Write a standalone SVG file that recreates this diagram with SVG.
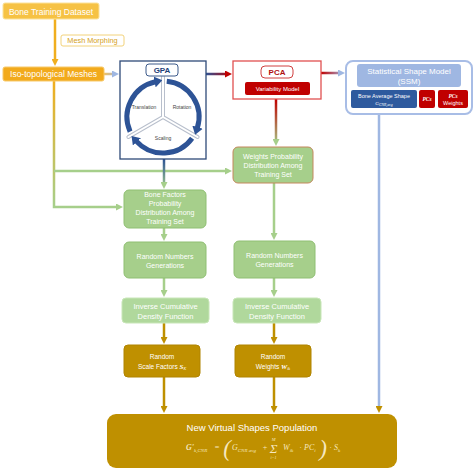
<svg xmlns="http://www.w3.org/2000/svg" width="474" height="474" viewBox="0 0 474 474">
<style>
.t{font-family:"Liberation Sans",Arial,sans-serif;fill:#fff;text-anchor:middle}
.m{font-family:"Liberation Serif","Times New Roman",serif;font-style:italic}
.gb{fill:#a6cf8b;stroke:#8fbf72;stroke-width:1}
.gl{fill:#b0d89c;stroke:#c8e6b8;stroke-width:1}
.au{fill:#bf9000;stroke:#b08400;stroke-width:1}
.c{fill:none;stroke-width:2.5}
.f{font-family:"Liberation Serif","Times New Roman",serif;font-style:italic;fill:#f6e7bf}
</style>
<defs>
<marker id="aO" viewBox="0 0 7 7" markerWidth="7" markerHeight="7" refX="3" refY="3.5" orient="auto" markerUnits="userSpaceOnUse"><path d="M0,0L7,3.5L0,7z" fill="#f0ae1e"/></marker>
<marker id="aB" viewBox="0 0 7 7" markerWidth="7" markerHeight="7" refX="3" refY="3.5" orient="auto" markerUnits="userSpaceOnUse"><path d="M0,0L7,3.5L0,7z" fill="#9fb7e2"/></marker>
<marker id="aR" viewBox="0 0 7 7" markerWidth="7" markerHeight="7" refX="3" refY="3.5" orient="auto" markerUnits="userSpaceOnUse"><path d="M0,0L7,3.5L0,7z" fill="#c00000"/></marker>
<marker id="aG" viewBox="0 0 7 7" markerWidth="7" markerHeight="7" refX="3" refY="3.5" orient="auto" markerUnits="userSpaceOnUse"><path d="M0,0L7,3.5L0,7z" fill="#a6cf8b"/></marker>
<marker id="aY" viewBox="0 0 7 7" markerWidth="7" markerHeight="7" refX="3" refY="3.5" orient="auto" markerUnits="userSpaceOnUse"><path d="M0,0L7,3.5L0,7z" fill="#bf9000"/></marker>
<marker id="aC" viewBox="0 0 8 11" markerWidth="8" markerHeight="11" refX="1" refY="5.5" orient="auto" markerUnits="userSpaceOnUse"><path d="M0,0L8,5.5L0,11z" fill="#2d5396"/></marker>
<linearGradient id="gIso" gradientUnits="userSpaceOnUse" x1="0" y1="81" x2="0" y2="207"><stop offset="0" stop-color="#f0ae1e"/><stop offset="1" stop-color="#a6cf8b"/></linearGradient>
<linearGradient id="gIG" gradientUnits="userSpaceOnUse" x1="104" y1="0" x2="119" y2="0"><stop offset="0" stop-color="#f0c060"/><stop offset="1" stop-color="#9fb7e2"/></linearGradient>
<linearGradient id="gGP" gradientUnits="userSpaceOnUse" x1="206" y1="0" x2="232" y2="0"><stop offset="0" stop-color="#2d5396"/><stop offset="1" stop-color="#c00000"/></linearGradient>
<linearGradient id="gPS" gradientUnits="userSpaceOnUse" x1="321" y1="0" x2="345" y2="0"><stop offset="0" stop-color="#c00000"/><stop offset="1" stop-color="#9fb7e2"/></linearGradient>
<linearGradient id="gPW" gradientUnits="userSpaceOnUse" x1="0" y1="99" x2="0" y2="146"><stop offset="0" stop-color="#c00000"/><stop offset="1" stop-color="#a6cf8b"/></linearGradient>
<linearGradient id="gGD" gradientUnits="userSpaceOnUse" x1="0" y1="159" x2="0" y2="189"><stop offset="0" stop-color="#2d5396"/><stop offset="1" stop-color="#a6cf8b"/></linearGradient>
</defs>
<rect width="474" height="474" fill="#fff"/>

<g id="connectors">
<line class="c" x1="55" y1="19" x2="55" y2="62" stroke="#f0ae1e" marker-end="url(#aO)"/>
<line class="c" x1="104" y1="74" x2="115" y2="74" stroke="url(#gIG)" marker-end="url(#aB)"/>
<line class="c" x1="206" y1="74" x2="228" y2="74" stroke="url(#gGP)" marker-end="url(#aR)"/>
<line class="c" x1="321" y1="73" x2="341" y2="73" stroke="url(#gPS)" marker-end="url(#aB)"/>
<line class="c" x1="276" y1="99" x2="276" y2="142" stroke="url(#gPW)" marker-end="url(#aG)"/>
<path class="c" d="M54,81V207H119" stroke="url(#gIso)" marker-end="url(#aG)"/>
<path class="c" d="M54,171H228" stroke="#a6cf8b" marker-end="url(#aG)"/>
<line class="c" x1="164" y1="159" x2="164" y2="185" stroke="url(#gGD)" marker-end="url(#aG)"/>
<line class="c" x1="379" y1="114" x2="379" y2="409" stroke="#9fb7e2" marker-end="url(#aY)"/>
<line class="c" x1="164" y1="228" x2="164" y2="237" stroke="#a6cf8b" marker-end="url(#aG)"/>
<line class="c" x1="274" y1="183" x2="274" y2="236" stroke="#a6cf8b" marker-end="url(#aG)"/>
<line class="c" x1="164" y1="278" x2="164" y2="293" stroke="#a6cf8b" marker-end="url(#aG)"/>
<line class="c" x1="274" y1="278" x2="274" y2="293" stroke="#a6cf8b" marker-end="url(#aG)"/>
<line class="c" x1="164" y1="323" x2="164" y2="340" stroke="#bf9000" marker-end="url(#aY)"/>
<line class="c" x1="274" y1="323" x2="274" y2="340" stroke="#bf9000" marker-end="url(#aY)"/>
<line class="c" x1="164" y1="377" x2="164" y2="409" stroke="#bf9000" marker-end="url(#aY)"/>
<line class="c" x1="274" y1="377" x2="274" y2="409" stroke="#bf9000" marker-end="url(#aY)"/>
</g>

<g id="bone-training-dataset">
<rect x="3" y="3" width="96" height="16" rx="2" fill="#f6c244" stroke="#fbe29a"/>
<text class="t" x="51" y="14.5" font-size="8.5">Bone Training Dataset</text>
</g>
<g id="mesh-morphing">
<rect x="61" y="35" width="63" height="11" rx="2" fill="#fff" stroke="#f2d27a"/>
<text class="t" x="92.5" y="43.3" font-size="7.3" style="fill:#d4a020">Mesh Morphing</text>
</g>
<g id="iso-topological-meshes">
<rect x="3" y="67" width="101" height="14" rx="2" fill="#f2aa1c" stroke="#f7c96a"/>
<text class="t" x="53.5" y="77.3" font-size="8.5">Iso-topological Meshes</text>
</g>

<g id="gpa">
<rect x="120" y="61" width="86" height="98" fill="#fff" stroke="#2f4a78" stroke-width="1.3"/>
<g stroke-linecap="round">
<path d="M163,117V77M163,117L197.6,137M163,117L128.4,137" stroke="#b8bfcc" stroke-width="4" fill="none"/>
<path d="M163,117V77M163,117L197.6,137M163,117L128.4,137" stroke="#fff" stroke-width="2" fill="none"/>
</g>
<g fill="none" stroke="#2d5396" stroke-width="5" marker-end="url(#aC)">
<path d="M130.11,131.64A36,36 0 0 1 155.51,81.79"/>
<path d="M166.76,81.2A36,36 0 0 1 197.24,128.12"/>
<path d="M192.12,138.16A36,36 0 0 1 136.25,141.09"/>
</g>
<rect x="146" y="64" width="32" height="12" rx="3" fill="#fff" stroke="#3c5a8a"/>
<text class="t" x="162" y="73.3" font-size="8" font-weight="bold" style="fill:#1f3f78">GPA</text>
<text class="t" x="144" y="109" font-size="5" style="fill:#444">Translation</text>
<text class="t" x="182" y="109" font-size="5" style="fill:#444">Rotation</text>
<text class="t" x="163" y="140" font-size="5" style="fill:#444">Scaling</text>
</g>

<g id="pca">
<rect x="233" y="61" width="88" height="38" fill="#fff" stroke="#e05050" stroke-width="1.3"/>
<rect x="261" y="66" width="32" height="12" rx="4" fill="#fff" stroke="#d04040"/>
<text class="t" x="277" y="75.3" font-size="8" font-weight="bold" style="fill:#b01010">PCA</text>
<rect x="245" y="82" width="65" height="13" rx="2" fill="#c00000"/>
<text class="t" x="277.5" y="90.8" font-size="6">Variability Model</text>
</g>

<g id="ssm">
<rect x="346" y="61" width="126" height="53" rx="7" fill="#fff" stroke="#a8bde6" stroke-width="2"/>
<rect x="357" y="64" width="104" height="23" rx="3" fill="#9fb7e2"/>
<text class="t" x="409" y="73.8" font-size="8">Statistical Shape Model</text>
<text class="t" x="409" y="84.3" font-size="8">(SSM)</text>
<rect x="351" y="90" width="66" height="18" rx="2" fill="#2e5a9e"/>
<text class="t" x="384" y="97.5" font-size="5.5">Bone Average Shape</text>
<text class="t" x="384" y="105.3" font-size="5"><tspan class="m">G</tspan><tspan class="m" font-size="3.8" dy="1">CNR,avg</tspan></text>
<rect x="419" y="90" width="16" height="18" rx="2" fill="#c00000"/>
<text class="t m" x="427" y="100.8" font-size="5.5" font-weight="bold">PCs</text>
<rect x="438" y="90" width="30" height="18" rx="2" fill="#c00000"/>
<text class="t m" x="453" y="97.5" font-size="5.5" font-weight="bold">PCs</text>
<text class="t" x="453" y="105" font-size="5.5">Weights</text>
</g>

<g id="weights-probability">
<rect x="233" y="147" width="80" height="36" rx="5" fill="#a6cf8b" stroke="#c4875c"/>
<text class="t" x="273" y="158.5" font-size="7">Weights Probability</text>
<text class="t" x="273" y="167.5" font-size="7">Distribution Among</text>
<text class="t" x="273" y="176.5" font-size="7">Training Set</text>
</g>

<g id="bone-factors-probability">
<rect class="gb" x="124" y="190" width="82" height="38" rx="5"/>
<text class="t" x="165" y="196.5" font-size="7">Bone Factors</text>
<text class="t" x="165" y="205.5" font-size="7">Probability</text>
<text class="t" x="165" y="214.5" font-size="7">Distribution Among</text>
<text class="t" x="165" y="223.5" font-size="7">Training Set</text>
</g>

<g id="rng-left">
<rect class="gb" x="124" y="242" width="82" height="36" rx="5"/>
<text class="t" x="165" y="258.5" font-size="7">Random Numbers</text>
<text class="t" x="165" y="267.5" font-size="7">Generations</text>
</g>
<g id="rng-right">
<rect class="gb" x="234" y="241" width="81" height="37" rx="5"/>
<text class="t" x="274.5" y="258" font-size="7">Random Numbers</text>
<text class="t" x="274.5" y="267" font-size="7">Generations</text>
</g>

<g id="icdf-left">
<rect class="gl" x="122" y="298" width="87" height="25" rx="4"/>
<text class="t" x="165.5" y="308.7" font-size="7.5">Inverse Cumulative</text>
<text class="t" x="165.5" y="319.2" font-size="7.5">Density Function</text>
</g>
<g id="icdf-right">
<rect class="gl" x="233" y="298" width="88" height="25" rx="4"/>
<text class="t" x="277" y="308.7" font-size="7.5">Inverse Cumulative</text>
<text class="t" x="277" y="319.2" font-size="7.5">Density Function</text>
</g>

<g id="random-scale-factors">
<rect class="au" x="124" y="345" width="76" height="32" rx="4"/>
<text class="t" x="162" y="358.5" font-size="6.5">Random</text>
<text class="t" x="162" y="368.5" font-size="6.5">Scale Factors <tspan class="m" font-weight="bold" font-size="7">S</tspan><tspan class="m" font-size="4" dy="1.5">K</tspan></text>
</g>
<g id="random-weights">
<rect class="au" x="235" y="345" width="76" height="32" rx="4"/>
<text class="t" x="273" y="358.5" font-size="6.5">Random</text>
<text class="t" x="273" y="368.5" font-size="6.5">Weights <tspan class="m" font-weight="bold" font-size="7">W</tspan><tspan class="m" font-size="4" dy="1.5">ik</tspan></text>
</g>

<g id="new-virtual-shapes-population">
<rect x="107" y="414" width="290" height="54" rx="9" fill="#bf9000"/>
<text class="t" x="252" y="430.5" font-size="9.5">New Virtual Shapes Population</text>
<text class="f" x="186" y="450" font-size="8"><tspan font-weight="bold">G'</tspan><tspan font-size="5" dy="1.5">k,CNR</tspan></text>
<text class="f" x="217" y="450" font-size="8" text-anchor="middle" font-style="normal">=</text>
<text class="f" x="227" y="455.5" font-size="23" text-anchor="middle" font-style="normal">(</text>
<text class="f" x="232" y="450" font-size="8">G<tspan font-size="5" dy="1.5">CNR avg</tspan></text>
<text class="f" x="265" y="450" font-size="8" text-anchor="middle" font-style="normal">+</text>
<text class="f" x="273.5" y="453" font-size="13" text-anchor="middle" font-style="normal">Σ</text>
<text class="f" x="273.5" y="440.5" font-size="4.5" text-anchor="middle">M</text>
<text class="f" x="273.5" y="459" font-size="4" text-anchor="middle">i=1</text>
<text class="f" x="283" y="450" font-size="8">W<tspan font-size="5" dy="1.5">ik</tspan></text>
<text class="f" x="300.5" y="450" font-size="8" text-anchor="middle" font-style="normal">·</text>
<text class="f" x="304" y="450" font-size="8">PC<tspan font-size="5" dy="1.5">i</tspan></text>
<text class="f" x="323" y="455.5" font-size="23" text-anchor="middle" font-style="normal">)</text>
<text class="f" x="330.5" y="450" font-size="8" text-anchor="middle" font-style="normal">·</text>
<text class="f" x="334" y="450" font-size="8">S<tspan font-size="5" dy="1.5">k</tspan></text>
</g>
</svg>
